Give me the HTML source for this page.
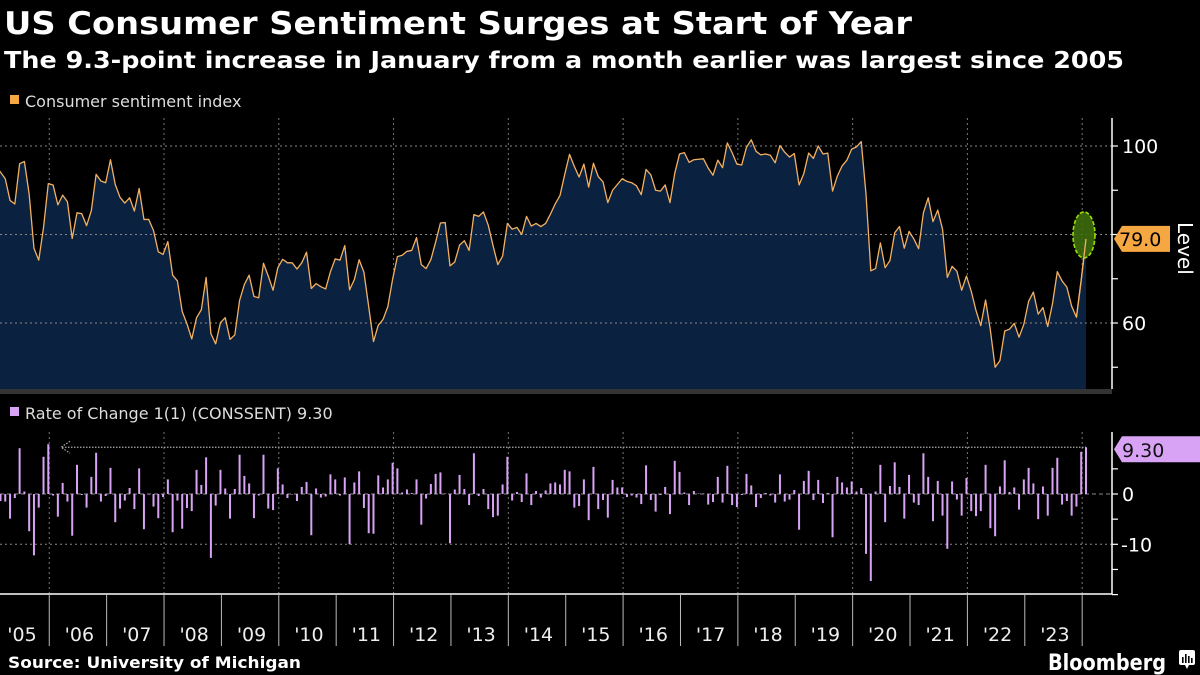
<!DOCTYPE html>
<html><head><meta charset="utf-8"><title>US Consumer Sentiment</title>
<style>
html,body{margin:0;padding:0;background:#000;width:1200px;height:675px;overflow:hidden}
svg{display:block}
text{font-family:"DejaVu Sans","Liberation Sans",sans-serif}
</style></head><body>
<svg id="chart" width="1200" height="675" viewBox="0 0 1200 675" xmlns="http://www.w3.org/2000/svg">
<rect x="0" y="0" width="1200" height="675" fill="#000"/>
<text x="4" y="34" fill="#fff" font-size="31" font-weight="bold" textLength="908" lengthAdjust="spacingAndGlyphs">US Consumer Sentiment Surges at Start of Year</text>
<text x="4" y="68" fill="#fff" font-size="23" font-weight="bold" textLength="1120" lengthAdjust="spacingAndGlyphs">The 9.3-point increase in January from a month earlier was largest since 2005</text>
<g>
<rect x="10" y="95" width="9" height="9" fill="#f5a742"/>
<text x="25" y="107" fill="#ddd" font-size="16">Consumer sentiment index</text>
</g>
<g id="upper"></g>
<rect x="0" y="389" width="1112" height="5" fill="#333"/>
<g>
<rect x="10" y="407" width="9" height="9" fill="#d9a3f5"/>
<text x="25" y="419" fill="#ddd" font-size="16">Rate of Change 1(1) (CONSSENT) 9.30</text>
</g>
<g id="lower"></g>
<g id="xaxis"></g>
<text x="8" y="668" fill="#fff" font-size="16" font-weight="bold" textLength="293" lengthAdjust="spacingAndGlyphs">Source: University of Michigan</text>
<text x="1048" y="670" fill="#fff" font-size="22" font-weight="bold" textLength="118" lengthAdjust="spacingAndGlyphs">Bloomberg</text>
<g>
<rect x="1179" y="650" width="16" height="15" rx="2" fill="#fff"/>
<path d="M1185 665 L1187 669 L1189 665 Z" fill="#fff"/>
<rect x="1182" y="657" width="1.6" height="6" fill="#000"/><rect x="1185" y="654" width="1.6" height="9" fill="#000"/><rect x="1188" y="656" width="1.6" height="7" fill="#000"/><rect x="1191" y="658" width="1.6" height="5" fill="#000"/>
</g>
</svg>
<script>
const startYear = 2005;
const yearLabels = ["'05","'06","'07","'08","'09","'10","'11","'12","'13","'14","'15","'16","'17","'18","'19","'20","'21","'22","'23"];
const levelTicks = [100, 80, 60];
const changeTicks = [0, -10];
const prevLevel = 97.1;
const sentiment = [
95.5,94.1,92.6,87.7,86.9,96.0,96.5,89.1,76.9,74.2,81.6,91.5,
91.2,86.7,88.9,87.4,79.1,84.9,84.7,82.0,85.4,93.6,92.1,91.7,
96.9,91.3,88.4,87.1,88.3,85.3,90.4,83.4,83.4,80.9,76.1,75.5,
78.4,70.8,69.5,62.6,59.8,56.4,61.2,63.0,70.3,57.6,55.3,60.1,
61.2,56.3,57.3,65.1,68.7,70.8,66.0,65.7,73.5,70.6,67.4,72.5,
74.4,73.6,73.6,72.2,73.6,76.0,67.8,68.9,68.2,67.7,71.6,74.5,
74.2,77.5,67.5,69.8,74.3,71.5,63.7,55.8,59.5,60.8,63.7,69.9,
75.0,75.3,76.2,76.4,79.3,73.2,72.3,74.3,78.3,82.6,82.7,72.9,
73.8,77.6,78.6,76.4,84.5,84.1,85.1,82.1,77.5,73.2,75.1,82.5,
81.2,81.6,80.0,84.1,81.9,82.5,81.8,82.5,84.6,86.9,88.8,93.6,
98.1,95.4,93.0,95.9,90.7,96.1,93.1,91.9,87.2,90.0,91.3,92.6,
92.0,91.7,91.0,89.0,94.7,93.5,90.0,89.8,91.2,87.2,93.8,98.2,
98.5,96.3,96.9,97.0,97.1,95.0,93.4,96.8,95.1,100.7,98.5,95.9,
95.7,99.7,101.4,98.8,98.0,98.2,97.9,96.2,100.1,98.6,97.5,98.3,
91.2,93.8,98.4,97.2,100.0,98.2,98.4,89.8,93.2,95.5,96.8,99.3,
99.8,101.0,89.1,71.8,72.3,78.1,72.5,74.1,80.4,81.8,76.9,80.7,
79.0,76.8,84.9,88.3,82.9,85.5,81.2,70.3,72.8,71.7,67.4,70.6,
67.2,62.8,59.4,65.2,58.4,50.0,51.5,58.2,58.6,59.9,56.8,59.7,
64.9,67.0,62.0,63.5,59.2,64.4,71.6,69.5,68.1,63.8,61.3,69.7,
79.0];
const changes = sentiment.map((v,i)=> +(v - (i ? sentiment[i-1] : prevLevel)).toFixed(1));

const NS = "http://www.w3.org/2000/svg";
function mk(tag, attrs, parent){const e=document.createElementNS(NS,tag);for(const k in attrs)e.setAttribute(k,attrs[k]);parent.appendChild(e);return e;}
// axis functions
const xMonth = i => -4.3 + i*4.782;            // i = months since Jan 2005
const yLevel = v => 146 + (100 - v)*4.425;
const yChange = v => 494 - v*5.03;
const AXX = 1112, PLOT_END = 1112;

const up = document.getElementById('upper');
const lo = document.getElementById('lower');
const xa = document.getElementById('xaxis');

// gridlines (even-year boundaries)
for (let y = 2006; y <= 2024; y += 2) {
  const gx = xMonth((y - startYear)*12 - 0.8);
  const g1 = mk('line',{x1:gx,x2:gx,y1:118,y2:389,stroke:'#777','stroke-width':1,'stroke-dasharray':'2,3'},up);
  
  
  const g2 = mk('line',{x1:gx,x2:gx,y1:432,y2:594,stroke:'#777','stroke-width':1,'stroke-dasharray':'2,3'},lo);
  
  
}
// area + line
const last = sentiment.length - 1;
let pts = sentiment.map((v,i)=> xMonth(i).toFixed(2)+','+yLevel(v).toFixed(2));
const area = mk('polygon',{points: xMonth(0)+',389 '+pts.join(' ')+' '+xMonth(last)+',389',fill:'#0b2140'},up);


for (const t of [100,80,60]) {
  const gl = mk('line',{x1:0,x2:AXX,y1:yLevel(t),y2:yLevel(t),stroke:'#888','stroke-width':1,'stroke-dasharray':'2,3'},up);
  
  
}
const line = mk('polyline',{points:pts.join(' '),fill:'none',stroke:'#f3b160','stroke-width':1.3,'stroke-linejoin':'round'},up);


// highlight ellipse
const ell = mk('ellipse',{cx:xMonth(last)-2,cy:yLevel(sentiment[last])-4,rx:11,ry:23,fill:'#3d6b0c','fill-opacity':0.9,stroke:'#9be000','stroke-width':1.6,'stroke-dasharray':'4,2'},up);


const line2 = mk('polyline',{points:pts.slice(last-2).join(' '),fill:'none',stroke:'#f3b160','stroke-width':1.3},up);


// right axis upper
const ax1 = mk('line',{x1:AXX,x2:AXX,y1:118,y2:389,stroke:'#fff','stroke-width':1.5},up);


for (let t = 50; t <= 100; t += 10) {
  const tk = mk('line',{x1:AXX,x2:AXX+6,y1:yLevel(t),y2:yLevel(t),stroke:'#fff','stroke-width':1.2},up);
  
  
}
for (const t of levelTicks) {
  if (t === 80) continue;
  const tl = mk('text',{x:AXX+10,y:yLevel(t)+7,fill:'#fff','font-size':19},up);
  tl.textContent = t;
  
  
}
// 79.0 value label
const ly = yLevel(sentiment[last]);
const vb = mk('path',{d:`M${AXX+2} ${ly} L${AXX+10} ${ly-13} L1170 ${ly-13} L1170 ${ly+13} L${AXX+10} ${ly+13} Z`,fill:'#f5a742'},up);


const vt = mk('text',{x:1119,y:ly+7,fill:'#000','font-size':19},up);
vt.textContent = sentiment[last].toFixed(1);


const lvl = mk('text',{x:0,y:0,fill:'#fff','font-size':20,transform:'translate(1178,222) rotate(90)'},up);
lvl.textContent = 'Level';



// lower panel
const zl = mk('line',{x1:0,x2:AXX,y1:yChange(0),y2:yChange(0),stroke:'#888','stroke-width':1,'stroke-dasharray':'4,3'},lo);


const ml = mk('line',{x1:0,x2:AXX,y1:yChange(-10),y2:yChange(-10),stroke:'#888','stroke-width':1,'stroke-dasharray':'2,3'},lo);


const lastCh = changes[last];
const dl = mk('line',{x1:62,x2:xMonth(last),y1:yChange(lastCh),y2:yChange(lastCh),stroke:'#aaa','stroke-width':1.2,'stroke-dasharray':'1.5,1.5'},lo);


const ar = mk('path',{d:`M70 ${yChange(lastCh)-6} L61 ${yChange(lastCh)} L70 ${yChange(lastCh)+6}`,fill:'none',stroke:'#aaa','stroke-width':1.2,'stroke-dasharray':'1.5,1.5'},lo);


changes.forEach((v,i)=>{
  const y0 = yChange(0), y1 = yChange(v);
  const b = mk('rect',{x:xMonth(i)-1,y:Math.min(y0,y1),width:2,height:Math.max(0.5,Math.abs(y1-y0)),fill:'#d9a3f5'},lo);
  
  
});
const ax2 = mk('line',{x1:AXX,x2:AXX,y1:432,y2:594,stroke:'#fff','stroke-width':1.5},lo);


for (let t = 5; t >= -20; t -= 5) {
  const tk = mk('line',{x1:AXX,x2:AXX+6,y1:yChange(t),y2:yChange(t),stroke:'#fff','stroke-width':1.2},lo);
  
  
}
for (const t of changeTicks) {
  const tl = mk('text',{x:t<0?AXX+9:AXX+10,y:yChange(t)+7,fill:'#fff','font-size':19},lo);
  tl.textContent = t;
  
  
}
const cy = yChange(lastCh);
const cb = mk('path',{d:`M${AXX+2} ${cy+2} L${AXX+10} ${cy-11} L1200 ${cy-11} L1200 ${cy+15} L${AXX+10} ${cy+15} Z`,fill:'#d9a3f5'},lo);


const ct = mk('text',{x:1122,y:cy+10,fill:'#111','font-size':19},lo);
ct.textContent = lastCh.toFixed(2);



// x axis
const xl = mk('line',{x1:0,x2:AXX,y1:594,y2:594,stroke:'#fff','stroke-width':1.5},xa);


for (let k = 0; k <= yearLabels.length; k++) {
  const sx = xMonth(k*12 - 0.8);
  if (k > 0) {
    const s = mk('line',{x1:sx,x2:sx,y1:594,y2:646,stroke:'#bbb','stroke-width':1},xa);
    
    
  }
  if (k < yearLabels.length) {
    const t = mk('text',{x:xMonth(k*12+5.5),y:641,fill:'#eee','font-size':19,'text-anchor':'middle'},xa);
    t.textContent = yearLabels[k];
    
    
  }
}
</script>
</body></html>
